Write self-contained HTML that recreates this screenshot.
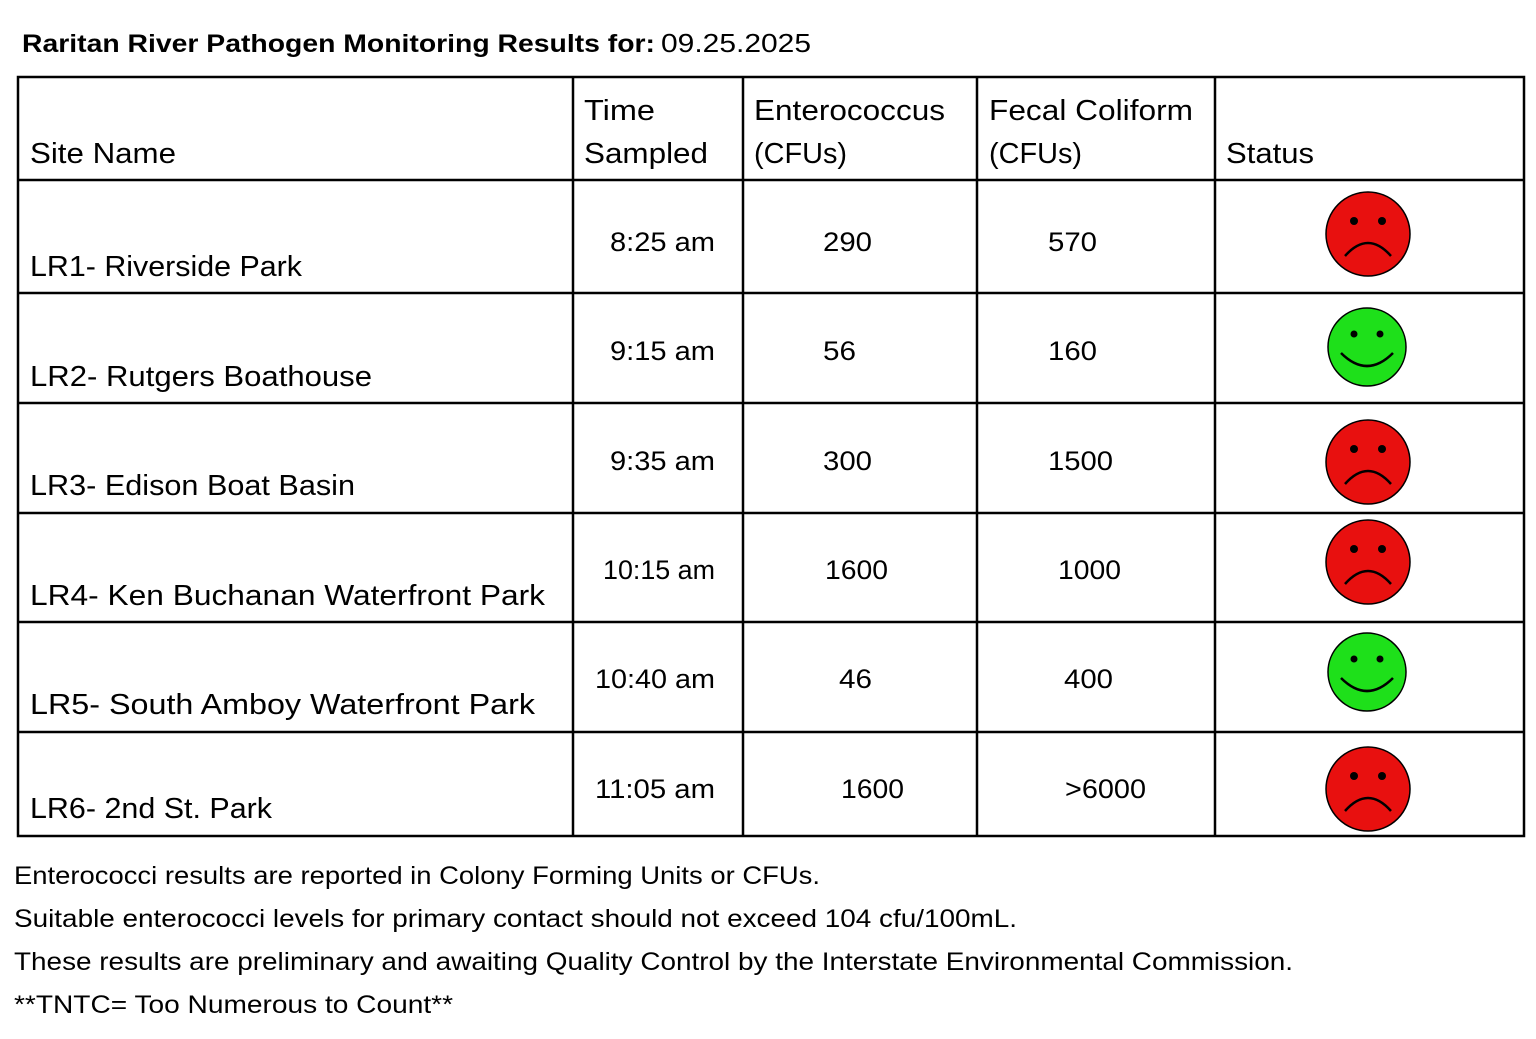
<!DOCTYPE html>
<html><head><meta charset="utf-8"><style>html,body{margin:0;padding:0;background:#fff;}svg{display:block}</style></head>
<body>
<svg width="1536" height="1039" xmlns="http://www.w3.org/2000/svg" font-family="Liberation Sans, Arial, sans-serif">
<text x="22" y="52" font-size="25" font-weight="bold" textLength="633" lengthAdjust="spacingAndGlyphs">Raritan River Pathogen Monitoring Results for:</text>
<text x="661" y="52" font-size="26" textLength="150" lengthAdjust="spacingAndGlyphs">09.25.2025</text>
<g stroke="#000" stroke-width="2.5" fill="none">
<rect x="18" y="77" width="1506" height="759"/>
<line x1="573" y1="77" x2="573" y2="836"/><line x1="743" y1="77" x2="743" y2="836"/>
<line x1="977" y1="77" x2="977" y2="836"/><line x1="1215" y1="77" x2="1215" y2="836"/>
<line x1="18" y1="180" x2="1524" y2="180"/><line x1="18" y1="293" x2="1524" y2="293"/>
<line x1="18" y1="403" x2="1524" y2="403"/><line x1="18" y1="513" x2="1524" y2="513"/>
<line x1="18" y1="622" x2="1524" y2="622"/><line x1="18" y1="732" x2="1524" y2="732"/>
</g>
<g font-size="29" fill="#000" lengthAdjust="spacingAndGlyphs">
<text x="30" y="163" textLength="146" lengthAdjust="spacingAndGlyphs">Site Name</text>
<text x="584" y="120" textLength="71" lengthAdjust="spacingAndGlyphs">Time</text>
<text x="584" y="163" textLength="124" lengthAdjust="spacingAndGlyphs">Sampled</text>
<text x="754" y="120" textLength="191" lengthAdjust="spacingAndGlyphs">Enterococcus</text>
<text x="754" y="163" textLength="93" lengthAdjust="spacingAndGlyphs">(CFUs)</text>
<text x="989" y="120" textLength="204" lengthAdjust="spacingAndGlyphs">Fecal Coliform</text>
<text x="989" y="163" textLength="93" lengthAdjust="spacingAndGlyphs">(CFUs)</text>
<text x="1226" y="163" textLength="88" lengthAdjust="spacingAndGlyphs">Status</text>
<text x="30" y="276" textLength="272" lengthAdjust="spacingAndGlyphs">LR1- Riverside Park</text>
<text x="30" y="386" textLength="342" lengthAdjust="spacingAndGlyphs">LR2- Rutgers Boathouse</text>
<text x="30" y="495" textLength="325" lengthAdjust="spacingAndGlyphs">LR3- Edison Boat Basin</text>
<text x="30" y="605" textLength="515" lengthAdjust="spacingAndGlyphs">LR4- Ken Buchanan Waterfront Park</text>
<text x="30" y="714" textLength="505" lengthAdjust="spacingAndGlyphs">LR5- South Amboy Waterfront Park</text>
<text x="30" y="818" textLength="242" lengthAdjust="spacingAndGlyphs">LR6- 2nd St. Park</text>
</g>
<g font-size="27" fill="#000">
<text x="610" y="251" textLength="105" lengthAdjust="spacingAndGlyphs">8:25 am</text>
<text x="610" y="360" textLength="105" lengthAdjust="spacingAndGlyphs">9:15 am</text>
<text x="610" y="470" textLength="105" lengthAdjust="spacingAndGlyphs">9:35 am</text>
<text x="603" y="579" textLength="112" lengthAdjust="spacingAndGlyphs">10:15 am</text>
<text x="595" y="688" textLength="120" lengthAdjust="spacingAndGlyphs">10:40 am</text>
<text x="595" y="798" textLength="120" lengthAdjust="spacingAndGlyphs">11:05 am</text>
<text x="823" y="251" textLength="49" lengthAdjust="spacingAndGlyphs">290</text>
<text x="823" y="360" textLength="33" lengthAdjust="spacingAndGlyphs">56</text>
<text x="823" y="470" textLength="49" lengthAdjust="spacingAndGlyphs">300</text>
<text x="825" y="579" textLength="63" lengthAdjust="spacingAndGlyphs">1600</text>
<text x="839" y="688" textLength="33" lengthAdjust="spacingAndGlyphs">46</text>
<text x="841" y="798" textLength="63" lengthAdjust="spacingAndGlyphs">1600</text>
<text x="1048" y="251" textLength="49" lengthAdjust="spacingAndGlyphs">570</text>
<text x="1048" y="360" textLength="49" lengthAdjust="spacingAndGlyphs">160</text>
<text x="1048" y="470" textLength="65" lengthAdjust="spacingAndGlyphs">1500</text>
<text x="1058" y="579" textLength="63" lengthAdjust="spacingAndGlyphs">1000</text>
<text x="1064" y="688" textLength="49" lengthAdjust="spacingAndGlyphs">400</text>
<text x="1065" y="798" textLength="81" lengthAdjust="spacingAndGlyphs">&gt;6000</text>
</g>
<defs>
<g id="sad"><circle r="42" fill="#e8100f" stroke="#000" stroke-width="1.5"/><circle cx="-14" cy="-13" r="4" fill="#000"/><circle cx="14" cy="-13" r="4" fill="#000"/><path d="M-23 22 Q0 -4 23 22" stroke="#000" stroke-width="2.5" fill="none"/></g>
<g id="happy"><circle r="39" fill="#1ee01a" stroke="#000" stroke-width="1.5"/><circle cx="-13" cy="-13" r="3.5" fill="#000"/><circle cx="13" cy="-13" r="3.5" fill="#000"/><path d="M-26 6 Q0 32 26 6" stroke="#000" stroke-width="2.5" fill="none"/></g>
</defs>
<use href="#sad" x="1368" y="234"/>
<use href="#happy" x="1367" y="347"/>
<use href="#sad" x="1368" y="462"/>
<use href="#sad" x="1368" y="562"/>
<use href="#happy" x="1367" y="672"/>
<use href="#sad" x="1368" y="789"/>
<g font-size="25" fill="#000">
<text x="14" y="884" textLength="806" lengthAdjust="spacingAndGlyphs">Enterococci results are reported in Colony Forming Units or CFUs.</text>
<text x="14" y="927" textLength="1003" lengthAdjust="spacingAndGlyphs">Suitable enterococci levels for primary contact should not exceed 104 cfu/100mL.</text>
<text x="14" y="970" textLength="1279" lengthAdjust="spacingAndGlyphs">These results are preliminary and awaiting Quality Control by the Interstate Environmental Commission.</text>
<text x="14" y="1013" textLength="439" lengthAdjust="spacingAndGlyphs">**TNTC= Too Numerous to Count**</text>
</g>
</svg>
</body></html>
